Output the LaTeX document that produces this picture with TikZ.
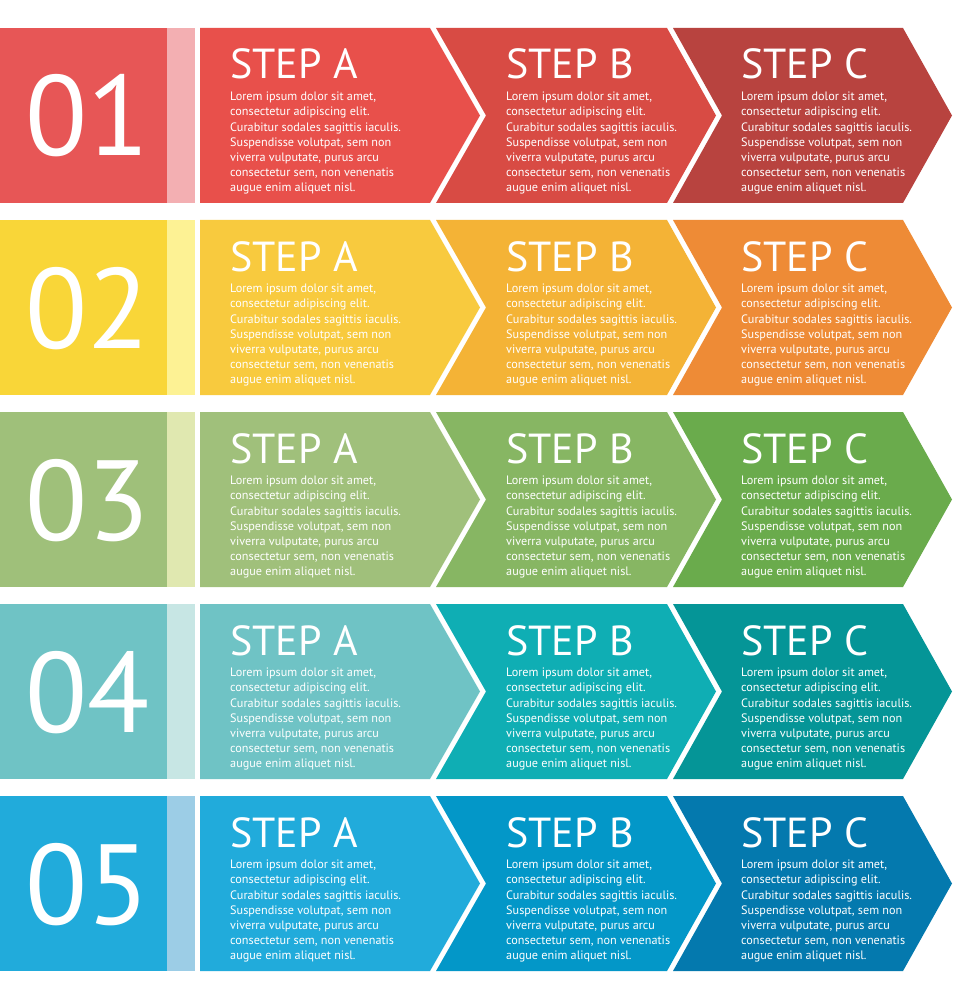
\documentclass[tikz,border=0pt]{standalone}
\usepackage{fontspec}
\setmainfont{PT Sans}
\definecolor{r1n}{HTML}{E75656}\definecolor{r1s}{HTML}{F3AFB2}\definecolor{r1a}{HTML}{E8504B}\definecolor{r1b}{HTML}{D84B44}\definecolor{r1c}{HTML}{B8433F}
\definecolor{r2n}{HTML}{F9D638}\definecolor{r2s}{HTML}{FDF294}\definecolor{r2a}{HTML}{F8CA3E}\definecolor{r2b}{HTML}{F4B336}\definecolor{r2c}{HTML}{EE8B36}
\definecolor{r3n}{HTML}{9FC07A}\definecolor{r3s}{HTML}{E0E8B0}\definecolor{r3a}{HTML}{A0C07B}\definecolor{r3b}{HTML}{87B663}\definecolor{r3c}{HTML}{6AAB4C}
\definecolor{r4n}{HTML}{6FC3C5}\definecolor{r4s}{HTML}{C7E6E4}\definecolor{r4a}{HTML}{6FC3C5}\definecolor{r4b}{HTML}{0FAEB4}\definecolor{r4c}{HTML}{059597}
\definecolor{r5n}{HTML}{21ABDB}\definecolor{r5s}{HTML}{9CCDE6}\definecolor{r5a}{HTML}{21ABDB}\definecolor{r5b}{HTML}{0397C8}\definecolor{r5c}{HTML}{0479AE}
\newcommand\loremtext{Lorem ipsum dolor sit amet,\\ consectetur adipiscing elit.\\ Curabitur sodales sagittis iaculis.\\ Suspendisse volutpat, sem non\\ viverra vulputate, purus arcu\\ consectetur sem, non venenatis\\ augue enim aliquet nisl.}
\tikzset{
  numtxt/.style={text=white, inner sep=0, anchor=base west, font=\fontsize{114}{114}\selectfont},
  titletxt/.style={text=white, inner sep=0, anchor=base west, font=\fontsize{42}{42}\selectfont},
  bodytxt/.style={text=white, inner sep=0, anchor=north west, align=left, font=\fontsize{12.2}{15.1}\selectfont}
}
\begin{document}
\begin{tikzpicture}[x=1pt,y=-1pt]
\useasboundingbox (0,0) rectangle (963,1000);
\fill[white] (0,0) rectangle (963,1000);
\foreach \r/\num in {0/01,1/02,2/03,3/04,4/05}{
  \pgfmathtruncatemacro\k{\r+1}
  \pgfmathsetmacro\t{28+192*\r}
  \pgfmathsetmacro\b{\t+175}
  \pgfmathsetmacro\m{\t+87.5}
  \fill[r\k n] (0,\t) rectangle (167,\b);
  \fill[r\k s] (167,\t) rectangle (195,\b);
  \fill[r\k a] (200,\t) -- (430,\t) -- (480,\m) -- (430,\b) -- (200,\b) -- cycle;
  \fill[r\k b] (436,\t) -- (667,\t) -- (716,\m) -- (667,\b) -- (436,\b) -- (486,\m) -- cycle;
  \fill[r\k c] (673,\t) -- (903,\t) -- (952,\m) -- (903,\b) -- (673,\b) -- (722,\m) -- cycle;
  \node[numtxt] (num\k) at (25,\t+128) {\num};
  \node[titletxt] (ta\k) at (230,\t+51) {STEP A};
  \node[titletxt] (tb\k) at (506,\t+51) {STEP B};
  \node[titletxt] (tc\k) at (741,\t+51) {STEP C};
  \node[bodytxt] (ba\k) at (230,\t+64) {\loremtext};
  \node[bodytxt] (bb\k) at (506,\t+64) {\loremtext};
  \node[bodytxt] (bc\k) at (741,\t+64) {\loremtext};
}
\end{tikzpicture}
\end{document}
